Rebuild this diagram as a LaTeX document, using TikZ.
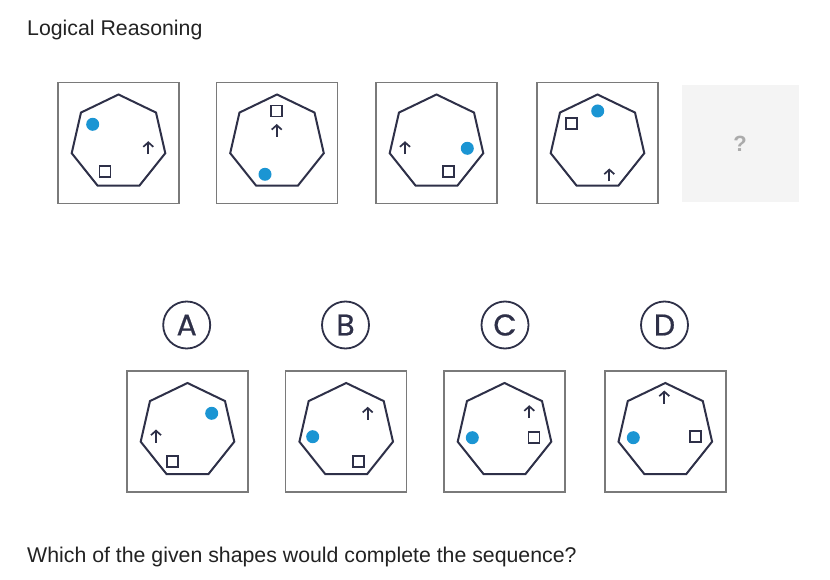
\documentclass[tikz,border=0pt]{standalone}
\usepackage{fontspec}
\setmainfont{Liberation Sans}
\newfontfamily\letterfont{Poppins}[FakeBold=0.6]
\usetikzlibrary{shapes.geometric,arrows.meta}
\definecolor{navy}{HTML}{2E3048}
\definecolor{dotblue}{HTML}{1B95D3}
\definecolor{framegray}{HTML}{7A7A7A}
\definecolor{bggray}{HTML}{F4F4F4}
\definecolor{qgray}{HTML}{ABABAB}
\definecolor{txt}{HTML}{222222}
\tikzset{
  frame/.style={draw=framegray,line width=1.4pt,minimum size=121pt,inner sep=0pt,outer sep=0pt},
  blank/.style={fill=bggray,minimum size=117pt,inner sep=0pt},
  hept/.style={draw=navy,line width=2pt,regular polygon,regular polygon sides=7,minimum size=96pt,inner sep=0pt},
  dot/.style={circle,fill=dotblue,minimum size=13pt,inner sep=0pt},
  sq/.style={draw=navy,line width=1.8pt,minimum size=11pt,inner sep=0pt},
  upar/.style={draw=navy,line width=1.7pt,-{Straight Barb[length=4.5pt,width=10pt]}},
  lettercirc/.style={circle,draw=navy,line width=1.8pt,minimum size=47pt,inner sep=0pt,text=navy,font=\letterfont\fontsize{30}{30}\selectfont},
  label/.style={text=txt,font=\fontsize{21.3}{24}\selectfont,inner sep=0pt}
}
\newcommand{\uparr}[3]{\coordinate (#1a) at (#2,#3+6.5); \coordinate (#1b) at (#2,#3-6.5); \draw[upar] (#1a) -- (#1b);}
\begin{document}
\begin{tikzpicture}[x=1pt,y=-1pt]
\useasboundingbox (0,0) rectangle (830,580);
\fill[white] (0,0) rectangle (830,580);
\node[label,anchor=base west] (title) at (27,36) {Logical Reasoning};
% top row
\node[frame] (f1) at (118.5,143) {};
\node[hept] (h1) at (118.5,142.5) {};
\node[dot] (d1) at (92.7,124.3) {};
\node[sq] (s1) at (105,171.7) {};
\uparr{a1}{148.3}{147.7}
\node[frame] (f2) at (277,143) {};
\node[hept] (h2) at (277,142.5) {};
\node[sq] (s2) at (276.7,111) {};
\uparr{a2}{276.7}{130.5}
\node[dot] (d2) at (265,174.3) {};
\node[frame] (f3) at (436.5,143) {};
\node[hept] (h3) at (436.5,142.5) {};
\uparr{a3}{405}{147.7}
\node[dot] (d3) at (467.3,148.3) {};
\node[sq] (s3) at (448.3,171.7) {};
\node[frame] (f4) at (597.5,143) {};
\node[hept] (h4) at (597.5,142.5) {};
\node[dot] (d4) at (597.7,111) {};
\node[sq] (s4) at (571.7,123.3) {};
\uparr{a4}{609.3}{175}
\node[blank] (f5) at (740,143.5) {};
\node[text=qgray,font=\fontsize{22}{22}\selectfont\bfseries,inner sep=0pt] (qm) at (740,144) {?};
% letters
\node[lettercirc] (lA) at (186.7,325) {A};
\node[lettercirc] (lB) at (345.5,325) {B};
\node[lettercirc] (lC) at (505,325) {C};
\node[lettercirc] (lD) at (664.5,325) {D};
% options
\node[frame] (oA) at (187.5,431.5) {};
\node[hept] (hA) at (187.5,431) {};
\node[dot] (dA) at (211.7,413.3) {};
\uparr{aA}{156}{436}
\node[sq] (sA) at (172.7,461.7) {};
\node[frame] (oB) at (346.2,431.5) {};
\node[hept] (hB) at (346.2,431) {};
\uparr{aB}{367.7}{413.3}
\node[dot] (dB) at (312.7,436.7) {};
\node[sq] (sB) at (358.3,461.7) {};
\node[frame] (oC) at (504.5,431.5) {};
\node[hept] (hC) at (504.5,431) {};
\uparr{aC}{529.3}{411.7}
\node[sq] (sC) at (534,437.7) {};
\node[dot] (dC) at (472.3,437.7) {};
\node[frame] (oD) at (665.3,431.5) {};
\node[hept] (hD) at (665.3,431) {};
\uparr{aD}{664.3}{397}
\node[sq] (sD) at (695.7,436.7) {};
\node[dot] (dD) at (633.3,437.7) {};
\node[label,anchor=base west] (question) at (27,562) {Which of the given shapes would complete the sequence?};
\end{tikzpicture}
\end{document}
